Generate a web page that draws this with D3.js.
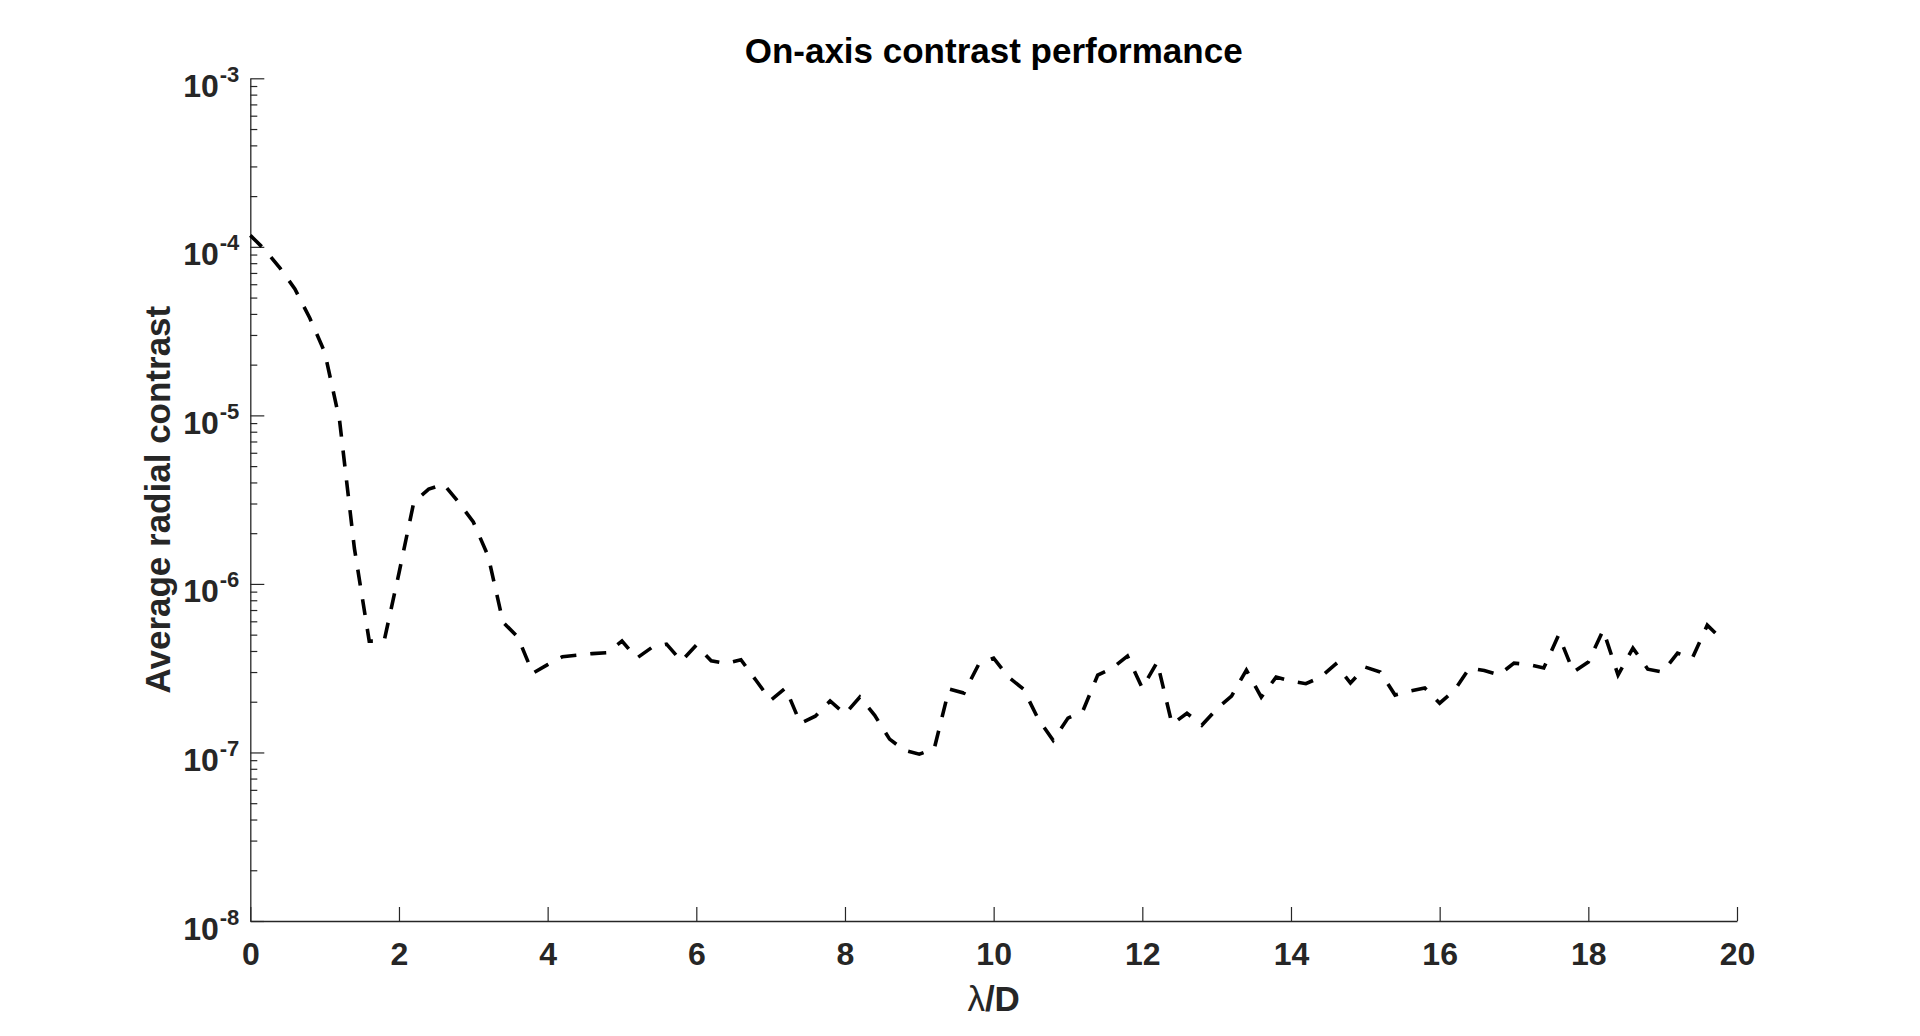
<!DOCTYPE html>
<html><head><meta charset="utf-8">
<script src="https://cdn.jsdelivr.net/npm/d3@7"></script>
<style>
html,body{margin:0;padding:0;background:#fff;}
svg{display:block;}
text{font-family:"Liberation Sans",Arial,Helvetica,sans-serif;}
</style>
</head><body>
<svg id="chart" width="1920" height="1036"></svg>
<script>
// λ/D sample positions
const lambdaOverD = [
  0.0,0.2,0.4,0.6,0.8,1.0,1.2,1.4,1.6,1.8,
  2.0,2.2,2.4,2.6,2.8,3.0,3.2,3.4,3.6,3.8,
  4.0,4.2,4.4,4.6,4.8,5.0,5.2,5.4,5.6,5.8,
  6.0,6.2,6.4,6.6,6.8,7.0,7.2,7.4,7.6,7.8,
  8.0,8.2,8.4,8.6,8.8,9.0,9.2,9.4,9.6,9.8,
  10.0,10.2,10.4,10.6,10.8,11.0,11.2,11.4,11.6,11.8,
  12.0,12.2,12.4,12.6,12.8,13.0,13.2,13.4,13.6,13.8,
  14.0,14.2,14.4,14.6,14.8,15.0,15.2,15.4,15.6,15.8,
  16.0,16.2,16.4,16.6,16.8,17.0,17.2,17.4,17.6,17.8,
  18.0,18.2,18.4,18.6,18.8,19.0,19.2,19.4,19.6,19.8
];
// Average radial contrast
const contrast = [
  1.17e-4,9.57e-5,7.48e-5,5.62e-5,3.78e-5,2.38e-5,9.4e-6,1.63e-6,4.58e-7,4.58e-7,
  1.16e-6,3.06e-6,3.65e-6,3.91e-6,3.06e-6,2.33e-6,1.46e-6,5.93e-7,4.83e-7,2.95e-7,
  3.32e-7,3.70e-7,3.78e-7,3.86e-7,3.91e-7,4.58e-7,3.63e-7,4.19e-7,4.39e-7,3.48e-7,
  4.33e-7,3.50e-7,3.37e-7,3.55e-7,2.69e-7,2.04e-7,2.41e-7,1.49e-7,1.64e-7,2.02e-7,
  1.69e-7,2.13e-7,1.66e-7,1.20e-7,1.03e-7,9.77e-8,1.05e-7,2.38e-7,2.25e-7,3.34e-7,
  3.63e-7,2.80e-7,2.38e-7,1.58e-7,1.18e-7,1.60e-7,1.76e-7,2.88e-7,3.17e-7,3.73e-7,
  2.41e-7,3.44e-7,1.47e-7,1.71e-7,1.45e-7,1.81e-7,2.16e-7,3.08e-7,2.13e-7,2.80e-7,
  2.65e-7,2.56e-7,2.80e-7,3.34e-7,2.58e-7,3.21e-7,3.00e-7,2.19e-7,2.31e-7,2.41e-7,
  1.96e-7,2.34e-7,3.17e-7,3.06e-7,2.89e-7,3.39e-7,3.32e-7,3.17e-7,4.97e-7,3.00e-7,
  3.44e-7,5.32e-7,2.88e-7,4.16e-7,3.12e-7,3.00e-7,3.88e-7,3.63e-7,5.69e-7,4.67e-7
];
const xTicks = [0,2,4,6,8,10,12,14,16,18,20];
const yTickExponents = [-8,-7,-6,-5,-4,-3];
const minorMultipliers = [2,3,4,5,6,7,8,9];
const titleText = "On-axis contrast performance";
const yLabelText = "Average radial contrast";

const svg = d3.select("#chart");
const L = 250.3, R = 1737, T = 78.3, B = 921;
const axisColor = "#262626";
const fontFam = "'Liberation Sans',Arial,Helvetica,sans-serif";

const x = d3.scaleLinear().domain([0,20]).range([L,R]);
const y = d3.scaleLog().domain([1e-8,1e-3]).range([B,T]);

// minor y ticks
const minorVals = [];
yTickExponents.slice(0,-1).forEach(e => minorMultipliers.forEach(m => minorVals.push(m*Math.pow(10,e))));
const gMinor = svg.append("g").attr("transform",`translate(${L},0)`)
  .call(d3.axisLeft(y).tickValues(minorVals).tickSizeInner(-7).tickSizeOuter(0).tickFormat(""));
gMinor.select(".domain").remove();
gMinor.selectAll("line").attr("stroke",axisColor).attr("stroke-width",1.2);

// major y axis
const gY = svg.append("g").attr("transform",`translate(${L},0)`)
  .call(d3.axisLeft(y).tickValues(yTickExponents.map(e=>Math.pow(10,e)))
     .tickSizeInner(-14).tickSizeOuter(0).tickPadding(11).tickFormat(""));
gY.select(".domain").attr("stroke",axisColor).attr("stroke-width",1.3);
gY.selectAll("line").attr("stroke",axisColor).attr("stroke-width",1.2);
gY.selectAll(".tick text").each(function(d){
  const e = Math.round(Math.log10(d));
  const t = d3.select(this);
  t.text(null).attr("dy",null).attr("y",18).attr("text-anchor","end")
   .attr("fill",axisColor).attr("font-size",32).attr("font-weight","bold")
   .attr("font-family",fontFam);
  t.append("tspan").text("10");
  t.append("tspan").attr("dy",-15).attr("dx",1).attr("font-size",22).text(String(e));
});

// x axis
const gX = svg.append("g").attr("transform",`translate(0,${B})`)
  .call(d3.axisBottom(x).tickValues(xTicks).tickSizeInner(-14).tickSizeOuter(0).tickPadding(0).tickFormat(d3.format("d")));
gX.select(".domain").attr("stroke",axisColor).attr("stroke-width",1.3);
gX.selectAll("line").attr("stroke",axisColor).attr("stroke-width",1.2);
gX.selectAll(".tick text").attr("dy",null).attr("y",44).attr("fill",axisColor)
  .attr("font-size",32).attr("font-weight","bold").attr("font-family",fontFam);

// data line
const data = lambdaOverD.map((v,i)=>({x:v, c:contrast[i]}));
svg.append("path").datum(data)
  .attr("fill","none").attr("stroke","#000").attr("stroke-width",3.6)
  .attr("stroke-dasharray","16,14").attr("stroke-linejoin","miter")
  .attr("d", d3.line().x(d=>x(d.x)).y(d=>y(d.c)));

// title
svg.append("text").attr("x",(L+R)/2).attr("y",63).attr("text-anchor","middle")
  .attr("font-size",35).attr("font-weight","bold").attr("fill","#000").text(titleText);

// x label
const xl = svg.append("text").attr("x",(L+R)/2).attr("y",1011).attr("text-anchor","middle")
  .attr("font-size",35).attr("font-weight","bold").attr("fill",axisColor);
xl.append("tspan").attr("font-weight","normal").text("λ");
xl.append("tspan").text("/D");

// y label
svg.append("text").attr("transform",`translate(170,${(T+B)/2}) rotate(-90)`)
  .attr("text-anchor","middle").attr("font-size",35).attr("font-weight","bold")
  .attr("fill",axisColor).text(yLabelText);
</script>
</body></html>
